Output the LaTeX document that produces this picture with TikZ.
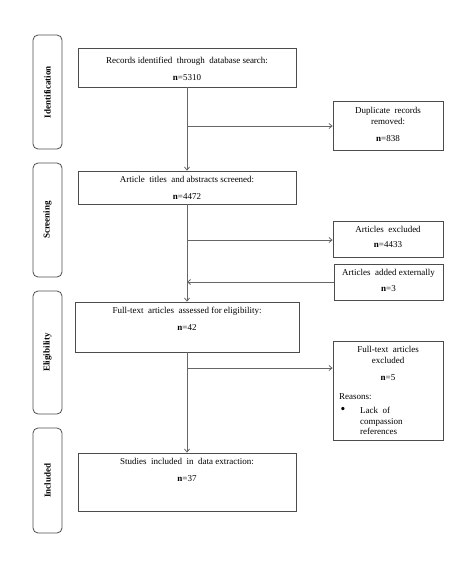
\documentclass[tikz,border=0pt]{standalone}
\usepackage{fontspec}
\setmainfont{Liberation Serif}
\usetikzlibrary{arrows.meta}
\begin{document}
\begin{tikzpicture}[x=1pt,y=-1pt,
  boxstyle/.style={draw=black!70,line width=0.8pt,rectangle,inner sep=0pt,fill=white},
  sidestyle/.style={draw=black!70,line width=0.8pt,rectangle,rounded corners=5pt,inner sep=0pt,minimum width=29pt,font=\fontsize{9}{10.5}\selectfont\bfseries},
  txt/.style={inner sep=0pt,align=center,anchor=north,font=\fontsize{9}{10.5}\selectfont},
  ltxt/.style={inner sep=0pt,align=left,anchor=north west,font=\fontsize{9}{10.5}\selectfont},
  arr/.style={draw=black!60,line width=0.8pt,-{Straight Barb[length=3pt,width=5pt]}}]
\useasboundingbox (0,0) rectangle (474,568);

% side phase boxes
\node[sidestyle,minimum height=114pt] (sid) at (47.5,92) {\rotatebox{90}{Identification}};
\node[sidestyle,minimum height=114pt] (sscr) at (47.5,220) {\rotatebox{90}{Screening}};
\node[sidestyle,minimum height=123pt] (selig) at (47.5,352.5) {\rotatebox{90}{Eligibility}};
\node[sidestyle,minimum height=105pt] (sinc) at (47.5,480.5) {\rotatebox{90}{Included}};

% main boxes
\node[boxstyle,minimum width=218pt,minimum height=39pt] (rec) at (187,67.5) {};
\node[txt] (recT) at (187,56.5) {Records identified\ \ through\ \ database search:\\[6.5pt]\textbf{n}=5310};

\node[boxstyle,minimum width=110pt,minimum height=49pt] (dup) at (388,125.5) {};
\node[txt] (dupT) at (388,107.5) {Duplicate\ \ records\\removed:\\[6.5pt]\textbf{n}=838};

\node[boxstyle,minimum width=218pt,minimum height=33pt] (scr) at (187,187.5) {};
\node[txt] (scrT) at (187,176.5) {Article\ \ titles\ \ and abstracts screened:\\[6.5pt]\textbf{n}=4472};

\node[boxstyle,minimum width=110pt,minimum height=36pt] (exc) at (388,239) {};
\node[txt] (excT) at (388,226.5) {Articles\ \ excluded\\[4.5pt]\textbf{n}=4433};

\node[boxstyle,minimum width=109pt,minimum height=36pt] (add) at (388.5,282) {};
\node[txt] (addT) at (388.5,269.5) {Articles\ \ added externally\\[5.5pt]\textbf{n}=3};

\node[boxstyle,minimum width=224pt,minimum height=50pt] (full) at (187,327) {};
\node[txt] (fullT) at (187,306.5) {Full-text\ \ articles\ \ assessed for eligibility:\\[6.5pt]\textbf{n}=42};

\node[boxstyle,minimum width=110pt,minimum height=99pt] (ftex) at (388,390.5) {};
\node[txt] (ftexT) at (388,346.5) {Full-text\ \ articles\\excluded\\[6.5pt]\textbf{n}=5};
\node[ltxt] (ftexR) at (339,393.5) {Reasons:\\[3.5pt]\hspace*{1.5pt}\makebox[19.5pt][l]{\raisebox{-0.3pt}{\scalebox{1.5}{•}}}Lack\ \ of\\\hspace*{21pt}compassion\\\hspace*{21pt}references};

\node[boxstyle,minimum width=218pt,minimum height=58pt] (inc) at (187,482) {};
\node[txt] (incT) at (187,458.5) {Studies\ \ included\ \ in\ \ data extraction:\\[6.5pt]\textbf{n}=37};

% connectors
\coordinate (b1) at (187,126);
\coordinate (b2) at (187,240);
\coordinate (b4) at (187,368);
\draw[arr] (rec.south) -- (scr.north);
\draw[arr] (b1) -- (b1 -| dup.west);
\draw[arr] (scr.south) -- (full.north);
\draw[arr] (b2) -- (b2 -| exc.west);
\draw[arr] (add.west) -- (add.west -| scr.south);
\draw[arr] (full.south) -- (inc.north);
\draw[arr] (b4) -- (b4 -| ftex.west);
\end{tikzpicture}
\end{document}
